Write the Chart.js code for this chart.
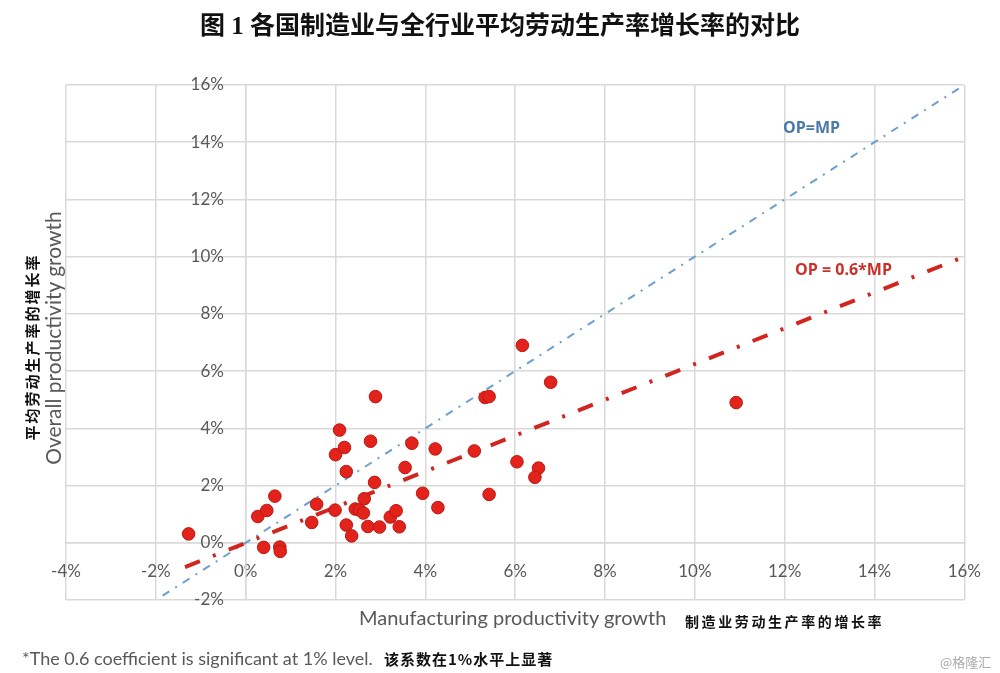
<!DOCTYPE html>
<html>
<head>
<meta charset="utf-8">
<script src="https://cdn.jsdelivr.net/npm/chart.js@4"></script>
<style>
  body { margin: 0; background: #fff; }
  #wrap { position: relative; width: 1000px; height: 673px; }
  #myChart { position: absolute; left: 0; top: 0; }
  .txt { position: absolute; white-space: nowrap; }
  .en { font-family: Lato, "Open Sans", sans-serif; color: #595959; }
  .cn { font-family: "Noto Sans CJK SC", sans-serif; font-weight: bold; color: #111; }
</style>
</head>
<body>
<div id="wrap">
  <canvas id="myChart" width="1000" height="673"></canvas>
  <div class="txt" style="left:0;width:1000px;top:5px;text-align:center;font-family:'Liberation Serif','Noto Sans CJK SC',serif;font-weight:bold;font-size:25px;color:#111;">图 1 各国制造业与全行业平均劳动生产率增长率的对比</div>
  <div class="txt en" style="left:52px;top:338px;font-size:21px;transform:translate(-50%,-50%) rotate(-90deg);">Overall productivity growth</div>
  <div class="txt cn" style="left:31px;top:347px;font-size:15px;letter-spacing:2px;transform:translate(-50%,-50%) rotate(-90deg);">平均劳动生产率的增长率</div>
  <div class="txt en" style="left:359px;top:605px;font-size:20px;">Manufacturing productivity growth</div>
  <div class="txt cn" style="left:685px;top:611px;font-size:14px;letter-spacing:2.6px;">制造业劳动生产率的增长率</div>
  <div class="txt en" style="left:22px;top:647px;font-size:18px;">*The 0.6 coefficient is significant at 1% level.</div>
  <div class="txt cn" style="left:384px;top:648px;font-size:15px;letter-spacing:1px;">该系数在1%水平上显著</div>
  <div class="txt" style="left:940px;top:652px;font-size:13px;color:#aaa;font-family:'Noto Sans CJK SC',sans-serif;">@格隆汇</div>
  <div class="txt" style="left:783px;top:116px;font-size:16px;font-weight:bold;color:#4a78ab;font-family:'Open Sans',sans-serif;">OP=MP</div>
  <div class="txt" style="left:795px;top:258px;font-size:16px;font-weight:bold;color:#c9302a;font-family:'Open Sans',sans-serif;">OP = 0.6*MP</div>
</div>
<script>
// manufacturing vs overall productivity growth, % per year
var mpGrowth = [-1.27, 0.40, 0.27, 0.47, 0.65, 0.76, 0.77, 1.47, 1.58, 1.99,
  2.00, 2.09, 2.20, 2.24, 2.24, 2.36, 2.44, 2.53, 2.62, 2.64,
  2.72, 2.78, 2.87, 2.89, 2.98, 3.22, 3.35, 3.42, 3.55, 3.70,
  3.94, 4.22, 4.28, 5.09, 5.33, 5.42, 5.42, 6.04, 6.52, 6.44,
  6.16, 6.79, 10.92];
var opGrowth = [0.31, -0.16, 0.92, 1.13, 1.63, -0.15, -0.30, 0.71, 1.35, 1.14,
  3.08, 3.94, 3.33, 2.49, 0.62, 0.24, 1.18, 1.15, 1.04, 1.54,
  0.57, 3.55, 2.11, 5.11, 0.55, 0.90, 1.12, 0.56, 2.63, 3.48,
  1.73, 3.28, 1.23, 3.21, 5.08, 5.11, 1.69, 2.83, 2.61, 2.29,
  6.90, 5.61, 4.90];

// reference lines (end points)
var lineOPeqMP = [[-1.85, -1.85], [16, 16]];
var lineOP06MP = [[-1.35, -0.85], [16, 10]];

var xTicks = [-4, -2, 0, 2, 4, 6, 8, 10, 12, 14, 16];
var yTicks = [-2, 0, 2, 4, 6, 8, 10, 12, 14, 16];

function toPoints(xs, ys) {
  return xs.map(function (x, i) { return { x: x, y: ys[i] }; });
}
function linePoints(arr) {
  return arr.map(function (p) { return { x: p[0], y: p[1] }; });
}

var gridColor = "#d9d9d9";
var tickFont = { family: "Lato, 'Open Sans', sans-serif", size: 17 };

var ctx = document.getElementById("myChart").getContext("2d");
var chart = new Chart(ctx, {
  type: "scatter",
  data: {
    datasets: [
      {
        label: "countries",
        data: toPoints(mpGrowth, opGrowth),
        backgroundColor: "#e3221b",
        borderColor: "#b81a14",
        borderWidth: 1,
        pointRadius: 6.3,
        showLine: false,
      },
      {
        label: "OP = 0.6*MP",
        data: linePoints(lineOP06MP),
        showLine: true,
        pointRadius: 0,
        borderColor: "#d0261f",
        borderWidth: 4,
        borderDash: [16, 14, 3, 14],
        borderCapStyle: "butt",
      },
      {
        label: "OP=MP",
        data: linePoints(lineOPeqMP),
        showLine: true,
        pointRadius: 0,
        borderColor: "#6a9fcf",
        borderWidth: 2,
        borderDash: [8, 7, 2, 7],
        borderCapStyle: "butt",
      },
    ],
  },
  options: {
    responsive: false,
    animation: false,
    layout: { padding: { left: 66, right: 34, top: 85, bottom: 73 } },
    plugins: { legend: { display: false }, tooltip: { enabled: false } },
    scales: {
      x: {
        type: "linear",
        position: { y: 0 },
        min: -4,
        max: 16,
        afterBuildTicks: function (axis) {
          axis.ticks = xTicks.map(function (v) { return { value: v }; });
        },
        grid: { color: gridColor, lineWidth: 1.5, drawTicks: false },
        border: { color: gridColor, width: 1.5 },
        ticks: {
          color: "#595959",
          font: tickFont,
          padding: 19,
          maxRotation: 0,
          callback: function (v) { return v + "%"; },
        },
      },
      y: {
        type: "linear",
        position: { x: 0 },
        min: -2,
        max: 16,
        afterBuildTicks: function (axis) {
          axis.ticks = yTicks.map(function (v) { return { value: v }; });
        },
        grid: { color: gridColor, lineWidth: 1.5, drawTicks: false },
        border: { color: gridColor, width: 1.5 },
        ticks: {
          color: "#595959",
          font: tickFont,
          // padding is ignored for an axis placed at x=0, so pad with spaces
          callback: function (v) { return v + "%     "; },
        },
      },
    },
  },
});
</script>
</body>
</html>
